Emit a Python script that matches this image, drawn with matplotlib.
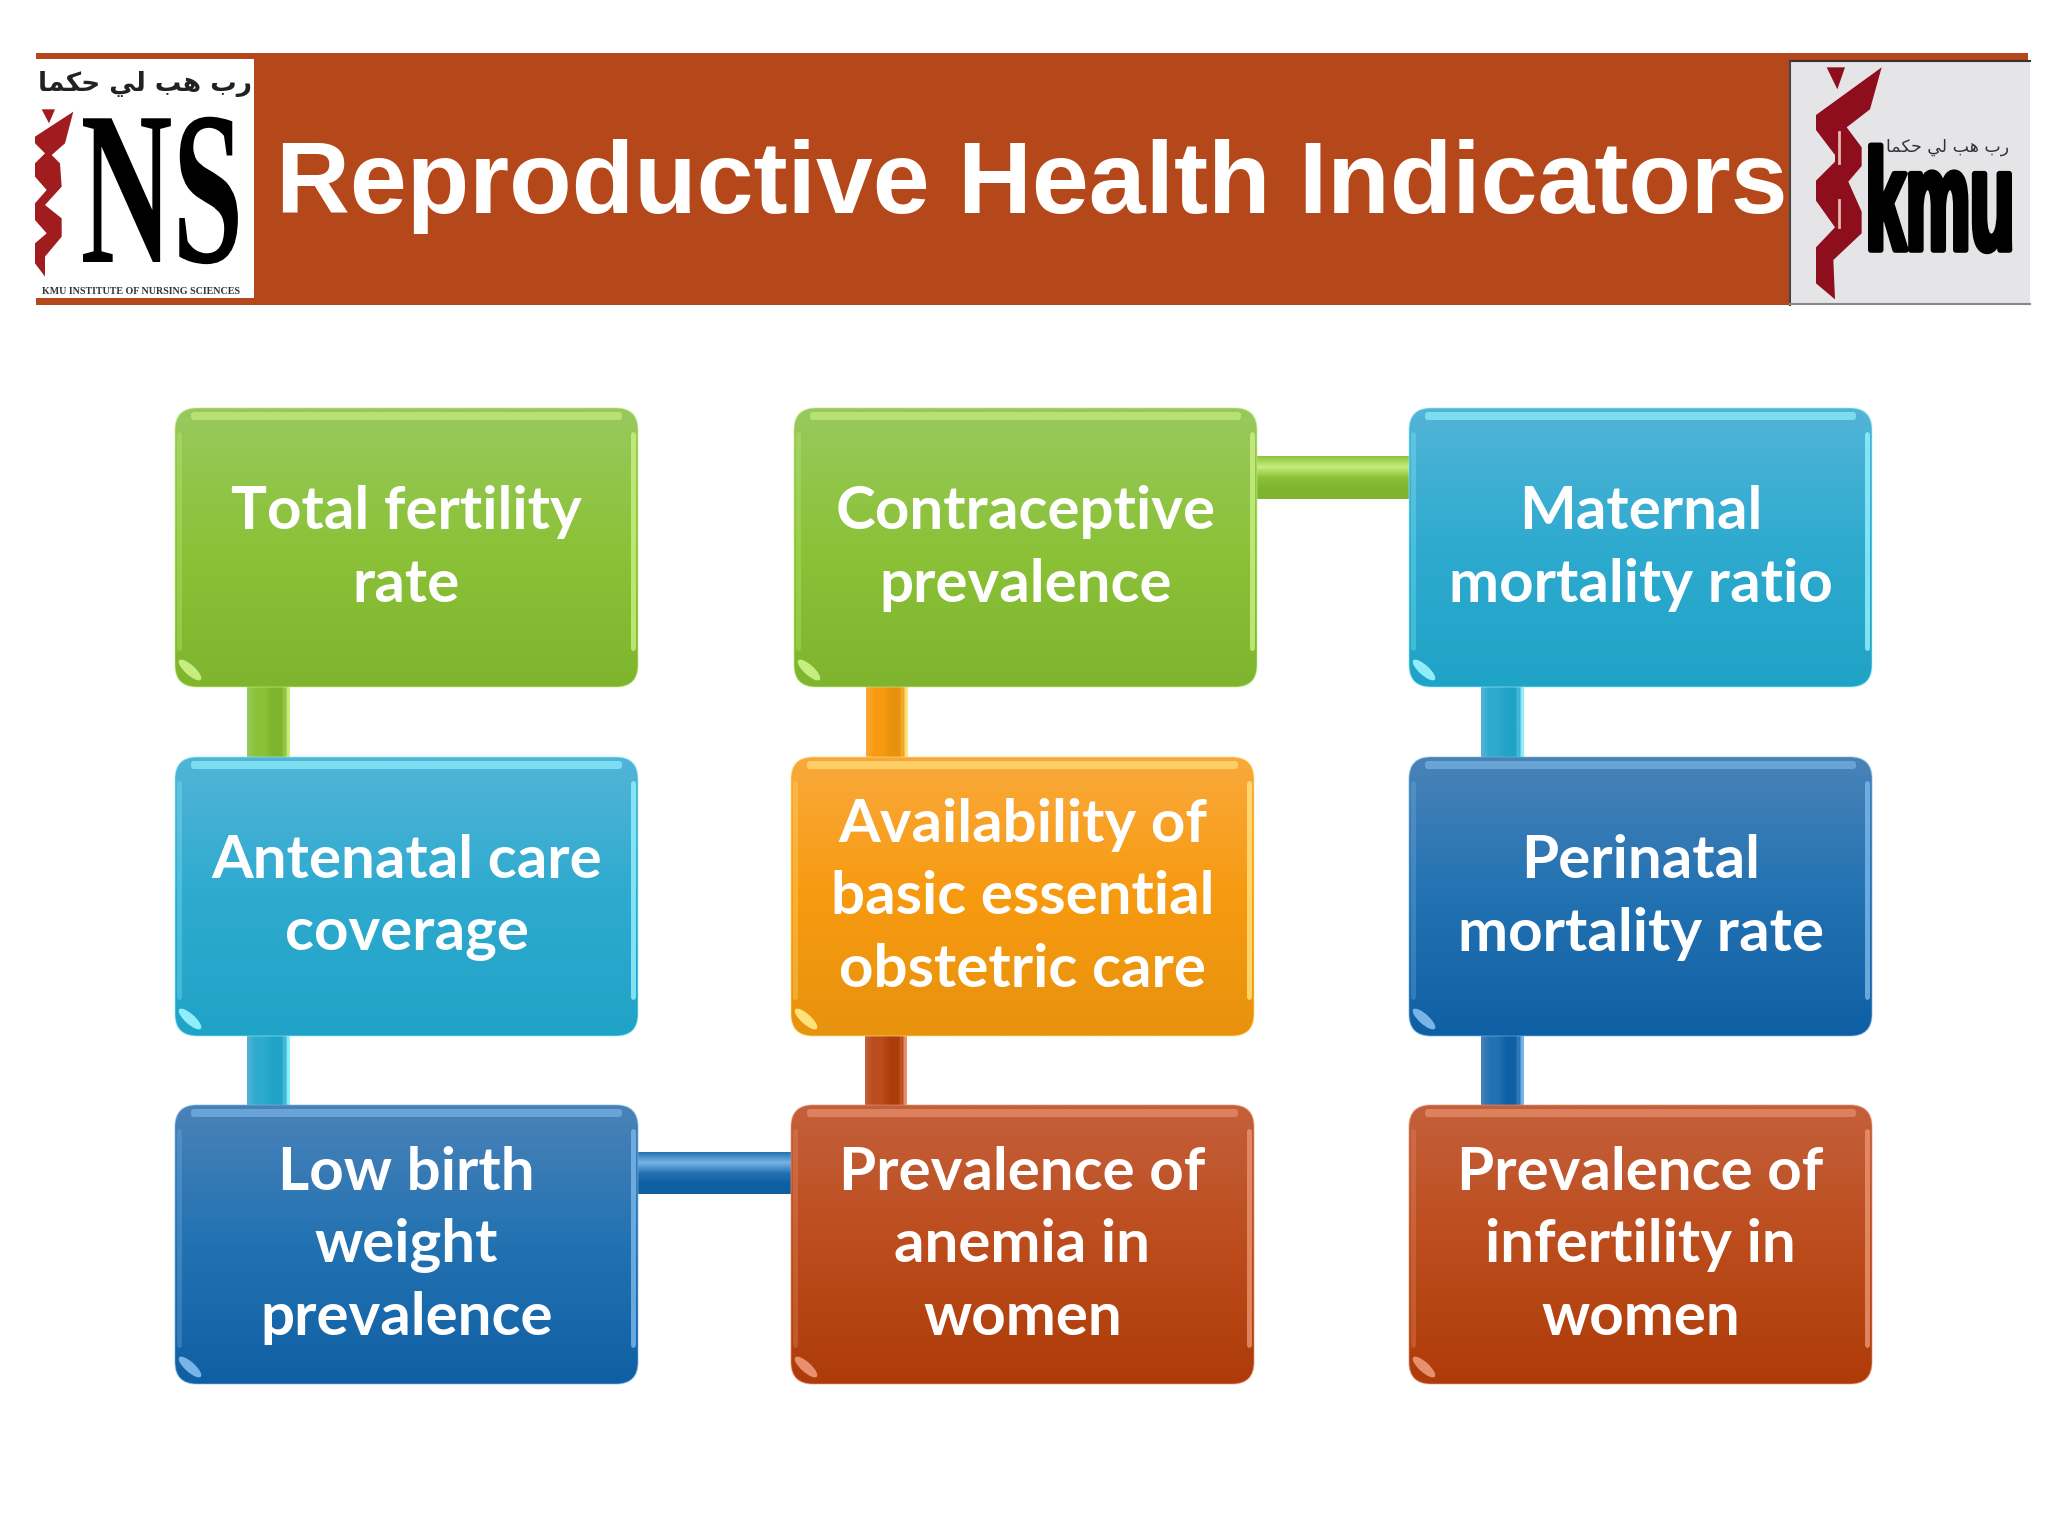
import numpy as np
import matplotlib
matplotlib.use("Agg")
import matplotlib.pyplot as plt
from matplotlib.colors import LinearSegmentedColormap, to_rgb
from matplotlib.patches import Ellipse, FancyBboxPatch, Polygon, Rectangle
from matplotlib.patheffects import AbstractPathEffect
from matplotlib.transforms import Affine2D

title = "Reproductive Health Indicators"
arabic_motto = "\uFE8E\uFEE4\uFEDC\uFEA3 \uFEF2\uFEDF \uFE90\uFEEB \uFE8F\uFEAD"
institute = "KMU INSTITUTE OF NURSING SCIENCES"
col_left = [175, 791, 1409]
col_width = 463
row_top = [408, 757, 1105]
row_height = 279

box_labels = [
    ["Total fertility\nrate", "Contraceptive\nprevalence", "Maternal\nmortality ratio"],
    ["Antenatal care\ncoverage", "Availability of\nbasic essential\nobstetric care", "Perinatal\nmortality rate"],
    ["Low birth\nweight\nprevalence", "Prevalence of\nanemia in\nwomen", "Prevalence of\ninfertility in\nwomen"],
]
box_kind = [["green", "green", "cyan"], ["cyan", "orange", "blue"], ["blue", "red", "red"]]
grads = {
    "green": ("#98C95E", "#8BC238", "#7FB52E", "#C6EE7E"),
    "cyan": ("#52B4D8", "#2EAACF", "#1FA3C6", "#90EEFB"),
    "blue": ("#4A82B8", "#2272B2", "#0F5FA4", "#78B4E6"),
    "orange": ("#F9A93C", "#F79A10", "#E8920E", "#FFE27A"),
    "red": ("#C4603C", "#BC4C1C", "#AE3C0A", "#E8906E"),
}


class Reshape(AbstractPathEffect):
    """Scale a real text object about an anchor pixel, optionally with a heavier outline."""
    def __init__(self, sx, sy, cx, cy, lw=0):
        super().__init__()
        self.sx, self.sy, self.cx, self.cy, self.lw = sx, sy, cx, cy, lw

    def draw_path(self, renderer, gc, tpath, affine, rgbFace=None):
        a = affine + Affine2D().translate(-self.cx, -self.cy).scale(self.sx, self.sy).translate(self.cx, self.cy)
        g = renderer.new_gc()
        g.copy_properties(gc)
        if self.lw:
            g.set_linewidth(self.lw)
            g.set_foreground(rgbFace)
        else:
            g.set_linewidth(0)
        renderer.draw_path(g, tpath, a, rgbFace)
        g.restore()


fig = plt.figure(figsize=(20.48, 15.36), dpi=100, facecolor="white")
ax = fig.add_axes([0, 0, 1, 1])
ax.set_xlim(0, 2048)
ax.set_ylim(1536, 0)
ax.axis("off")
H = 1536


def shade(x0, x1, y0, y1, stops, clip=None, z=2, axis="y"):
    cmap = LinearSegmentedColormap.from_list("g", [to_rgb(c) for c in stops], N=256)
    t = np.linspace(0, 1, 256)
    g = t[:, None] if axis == "y" else t[None, :]
    im = ax.imshow(g, cmap=cmap, vmin=0, vmax=1, extent=(x0, x1, y1, y0), aspect="auto",
                   zorder=z, interpolation="bilinear")
    if clip is not None:
        im.set_clip_path(clip)
    return im


# banner
ax.add_patch(Rectangle((36, 53), 1992, 252, fc="#B5481A", ec="none", zorder=1))


# connectors
def conn_v(x0, x1, y0, y1, key):
    c0, cm, c1, hi = grads[key]
    shade(x0, x1, y0, y1, [c0, cm, cm, c1, c1, hi], z=1.5, axis="x")
    shade(x1 - 5, x1, y0, y1, [c1, hi, hi], z=1.6, axis="x")


def conn_h(x0, x1, y0, y1, key):
    c0, cm, c1, hi = grads[key]
    shade(x0, x1, y0, y1, [cm, hi, cm, c1, c1], z=1.5)


conn_v(247, 290, 687, 757, "green")
conn_v(247, 290, 1036, 1105, "cyan")
conn_v(866, 908, 687, 757, "orange")
conn_v(865, 907, 1036, 1105, "red")
conn_v(1481, 1524, 687, 757, "cyan")
conn_v(1481, 1524, 1036, 1105, "blue")
conn_h(1256, 1409, 456, 499, "green")
conn_h(638, 791, 1152, 1194, "blue")

# boxes
rad = 22
for r, y in enumerate(row_top):
    for c, x in enumerate(col_left):
        xx = x + (3 if (r == 0 and c == 1) else 0)
        c0, cm, c1, hi = grads[box_kind[r][c]]
        clip = FancyBboxPatch((xx, y), col_width, row_height,
                              boxstyle=f"round,pad=0,rounding_size={rad}",
                              fc="none", ec="none")
        ax.add_patch(clip)
        shade(xx, xx + col_width, y, y + row_height, [c0, cm, c1], clip=clip, z=2)
        stripes = [
            ((xx + 16, y + 4), col_width - 32, 8, 0.7),
            ((xx + 2, y + 24), 5, row_height - 60, 0.3),
            ((xx + col_width - 7, y + 24), 5, row_height - 60, 0.85),
        ]
        for xy, w, h, a in stripes:
            p = FancyBboxPatch(xy, w, h, boxstyle="round,pad=0,rounding_size=3",
                               fc=hi, ec="none", alpha=a, zorder=2.2)
            ax.add_patch(p)
        crescent = Ellipse((xx + 15, y + row_height - 17), 29, 10, angle=42, fc=hi, ec="none", zorder=2.3)
        ax.add_patch(crescent)
        crescent.set_clip_path(clip)
        edge = FancyBboxPatch((xx, y), col_width, row_height,
                              boxstyle=f"round,pad=0,rounding_size={rad}",
                              fc="none", ec=hi, lw=1.0, alpha=0.45, zorder=2.4)
        ax.add_patch(edge)
        ax.text(xx + col_width / 2, y + row_height / 2 + 1, box_labels[r][c], color="white",
                family="Lato", weight="bold", fontsize=43.3, ha="center", va="center",
                linespacing=1.41, zorder=3)

# title
ax.text(1032, 187, title, color="white", family="Liberation Sans", weight="bold",
        fontsize=73.6, ha="center", va="center", zorder=3)

# left logo
ax.add_patch(Rectangle((36, 59), 218, 239, fc="white", ec="none", zorder=2))
ax.text(145, 84, arabic_motto, color="#222222", family="DejaVu Sans", weight="bold",
        fontsize=19, ha="center", va="center", zorder=3)
ax.text(162, 262, "NS", color="black", family="Liberation Serif", weight="bold",
        fontsize=79, ha="center", va="baseline", zorder=3,
        path_effects=[Reshape(1.16, 2.0, 162, H - 262)])
ax.text(141, 292, institute, color="#333333", family="Liberation Serif",
        weight="bold", fontsize=7.2, ha="center", va="center", zorder=3)


def zoomed(pts, ox, oy):
    return [(ox + a / 3, oy + b / 3) for a, b in pts]


left_staff = [(220, 245), (195, 340), (155, 375), (180, 400), (185, 470), (135, 525), (185, 565),
              (185, 620), (135, 680), (135, 740), (105, 700), (105, 640), (140, 610), (105, 570),
              (105, 520), (140, 480), (105, 440), (105, 400), (135, 370), (105, 340), (105, 320)]
left_tip = [(125, 238), (165, 238), (147, 280)]
ax.add_patch(Polygon(zoomed(left_staff, 0, 30), fc="#A01C1E", ec="none", zorder=3))
ax.add_patch(Polygon(zoomed(left_tip, 0, 30), fc="#A01C1E", ec="none", zorder=3))

# right logo
ax.add_patch(Rectangle((1790, 60), 240, 245, fc="#E5E5E8", ec="none", zorder=2))
ax.plot([1790, 2030], [61, 61], color="#333333", lw=1.5, zorder=2.1)
ax.plot([1790, 1790], [61, 305], color="#444444", lw=1.5, zorder=2.1)
ax.plot([1790, 2030], [304, 304], color="#888888", lw=1.5, zorder=2.1)
right_staff = [(305, 112), (270, 238), (200, 292), (245, 352), (245, 408), (205, 455), (245, 545),
               (245, 610), (160, 690), (165, 808), (108, 760), (108, 652), (165, 592),
               (108, 512), (108, 452), (165, 395), (165, 375), (108, 300), (108, 255)]
right_tip = [(140, 112), (195, 112), (172, 178)]
ax.add_patch(Polygon(zoomed(right_staff, 1780, 30), fc="#8E0E1E", ec="none", zorder=3))
ax.add_patch(Polygon(zoomed(right_tip, 1780, 30), fc="#8E0E1E", ec="none", zorder=3))
for seg in ([(178, 305), (178, 400)], [(178, 510), (178, 590)]):
    pts = zoomed(seg, 1780, 30)
    ax.plot([p[0] for p in pts], [p[1] for p in pts], color="#E8B8B0", lw=2, zorder=3.1)
ax.text(1940, 250, "kmu", color="black", family="Liberation Sans", weight="bold",
        fontsize=52, ha="center", va="baseline", zorder=3,
        path_effects=[Reshape(1.0, 2.0, 1940, H - 250, lw=4)])
ax.text(1948, 147, arabic_motto, color="#333333", family="DejaVu Sans",
        fontsize=12.5, ha="center", va="center", zorder=3)

ax.set_xlim(0, 2048)
ax.set_ylim(1536, 0)
fig.savefig("out.png", dpi=100, facecolor="white")
